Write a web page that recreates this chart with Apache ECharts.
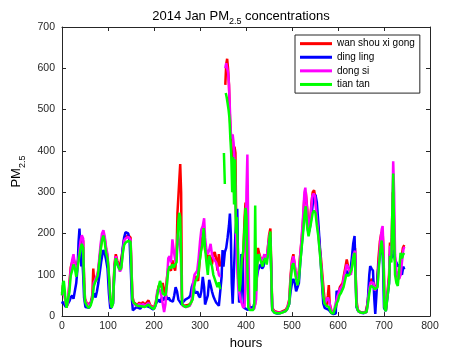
<!DOCTYPE html>
<html><head><meta charset="utf-8">
<script src="https://cdn.jsdelivr.net/npm/echarts@6/dist/echarts.min.js"></script>
<style>html,body{margin:0;padding:0;background:#fff}#c{width:474px;height:355px}</style>
</head><body><div id="c"></div>
<script>
const seriesNames = ['wan shou xi gong', 'ding ling', 'dong si', 'tian tan'];
const xTicks = [0, 100, 200, 300, 400, 500, 600, 700, 800];
const yTicks = [0, 100, 200, 300, 400, 500, 600, 700];

// [hour, PM2.5]
const wanShouXiGong = [[0,55],[2,75],[4,72],[6,50],[8,30],[10,22],[13,35],[16,80],[19,118],[22,130],[25,140],[28,128],[31,110],[34,128],[37,150],[40,175],[43,190],[46,182],[48,90],[50,42],[54,30],[58,26],[62,30],[66,52],[68,115],[70,82],[73,86],[76,90],[79,112],[82,142],[85,172],[88,192],[90,200],[93,186],[96,162],[99,142],[102,92],[105,40],[108,24],[111,40],[114,125],[117,150],[120,135],[123,125],[126,120],[129,118],[132,160],[135,185],[138,190],[141,192],[144,196],[147,198],[149,190],[151,120],[153,48],[156,34],[160,30],[164,26],[168,33],[172,28],[176,34],[180,27],[184,30],[188,38],[192,26],[196,22],[200,20],[204,35],[207,55],[210,72],[213,78],[216,70],[219,80],[222,60],[225,55],[228,92],[231,118],[234,122],[237,110],[240,135],[243,120],[246,110],[249,150],[251,250],[253,290],[255,330],[257,368],[259,300],[260,150],[261,30],[264,25],[268,24],[272,26],[276,28],[280,30],[284,45],[287,75],[290,97],[293,100],[296,85],[299,130],[302,160],[305,190],[308,195],[311,160],[314,150],[317,130],[320,148],[323,140],[326,125],[329,150],[332,155],[335,140],[338,110],[341,150],[344,120],[346,null],[355,560],[357,610],[359,623],[361,600],[363,560],[365,480],[367,440],[369,400],[371,340],[373,300],[375,410],[377,395],[379,200],[381,150],[383,90],[385,80],[388,60],[391,100],[394,150],[397,240],[399,275],[401,260],[403,180],[405,40],[408,20],[412,18],[416,18],[420,30],[423,120],[426,165],[429,150],[432,140],[435,125],[438,135],[441,150],[444,130],[447,160],[450,195],[453,212],[455,120],[457,20],[462,12],[468,10],[474,9],[480,12],[486,15],[490,22],[494,40],[497,100],[500,135],[503,150],[506,120],[509,95],[512,85],[515,110],[518,150],[521,185],[524,230],[527,290],[530,300],[533,260],[536,215],[539,220],[542,270],[545,300],[548,305],[551,285],[554,240],[557,210],[560,170],[563,140],[566,100],[569,60],[572,30],[575,25],[578,50],[580,75],[582,30],[586,12],[590,8],[594,10],[598,40],[601,55],[604,70],[607,72],[610,80],[613,100],[616,118],[619,137],[622,120],[625,110],[628,105],[631,130],[634,150],[637,165],[640,40],[643,15],[648,10],[654,8],[660,10],[664,30],[667,60],[670,80],[673,90],[676,85],[679,70],[682,60],[685,80],[688,140],[691,180],[694,200],[697,205],[699,150],[701,30],[704,15],[708,18],[711,100],[713,178],[715,150],[717,190],[719,300],[721,260],[723,150],[726,110],[729,95],[732,90],[735,100],[738,140],[741,165],[744,172]];

const dingLing = [[0,30],[2,35],[4,30],[6,26],[8,22],[10,25],[13,30],[16,36],[19,45],[22,50],[25,42],[28,45],[31,80],[34,120],[36,180],[38,212],[40,165],[42,120],[44,140],[46,100],[48,45],[51,22],[55,25],[59,20],[63,24],[67,48],[70,55],[73,45],[76,60],[79,80],[82,105],[85,130],[88,150],[90,160],[93,152],[96,135],[99,115],[102,55],[105,18],[108,14],[111,30],[114,110],[117,140],[120,130],[123,120],[126,115],[129,125],[132,165],[135,190],[138,203],[141,202],[144,200],[147,180],[150,100],[152,40],[154,14],[158,18],[162,22],[166,20],[170,18],[174,24],[178,20],[182,25],[186,28],[190,22],[194,18],[198,16],[202,22],[205,32],[208,35],[211,40],[214,33],[217,45],[220,38],[223,45],[226,50],[229,40],[232,45],[235,38],[238,42],[241,35],[244,50],[247,70],[250,60],[253,40],[256,35],[260,28],[264,35],[268,40],[272,38],[276,45],[279,50],[282,70],[285,80],[288,60],[291,55],[294,60],[297,50],[300,45],[303,60],[306,95],[309,70],[311,28],[314,30],[317,50],[320,88],[323,75],[326,60],[329,48],[332,40],[335,33],[338,30],[341,25],[344,22],[347,95],[349,160],[351,120],[354,155],[357,165],[360,190],[363,220],[365,248],[367,200],[369,80],[371,30],[374,32],[377,200],[379,230],[381,260],[383,120],[385,33],[388,40],[390,150],[392,140],[394,60],[396,20],[400,18],[404,15],[408,20],[412,18],[416,22],[420,40],[423,90],[426,110],[429,120],[432,125],[435,115],[438,120],[441,140],[444,130],[447,150],[450,180],[453,190],[455,100],[457,15],[462,8],[468,6],[474,7],[480,10],[486,12],[490,18],[494,30],[497,60],[500,80],[503,90],[506,80],[509,60],[512,58],[515,80],[518,130],[521,170],[524,210],[527,250],[530,255],[533,220],[536,200],[539,215],[542,240],[545,270],[548,285],[551,294],[554,275],[557,230],[560,180],[563,120],[566,63],[568,30],[571,20],[575,18],[580,15],[585,8],[590,5],[595,6],[597,61],[600,55],[603,60],[606,70],[609,65],[612,80],[615,95],[618,110],[621,105],[624,100],[627,110],[630,140],[633,175],[636,194],[638,120],[640,22],[644,12],[650,8],[656,7],[662,10],[665,40],[668,100],[670,121],[673,115],[676,110],[679,40],[681,5],[684,60],[687,110],[690,140],[693,165],[696,178],[698,120],[700,20],[704,12],[708,15],[711,80],[713,150],[716,140],[718,145],[721,160],[724,135],[727,130],[730,120],[733,125],[736,110],[739,100],[742,120],[744,113]];

const dongSi = [[0,50],[2,70],[4,68],[6,48],[8,30],[10,22],[13,32],[16,75],[19,112],[22,135],[25,150],[28,125],[31,110],[34,125],[37,148],[40,180],[43,196],[46,188],[48,85],[50,40],[54,28],[58,24],[62,28],[66,45],[69,80],[72,88],[75,92],[78,105],[81,140],[84,175],[87,200],[90,208],[93,192],[96,165],[99,150],[102,95],[105,35],[108,22],[111,35],[114,120],[117,145],[120,130],[123,118],[126,108],[129,115],[132,155],[135,182],[138,188],[141,190],[144,192],[147,195],[149,185],[151,115],[153,45],[156,30],[160,28],[164,24],[168,30],[172,25],[176,30],[180,24],[184,27],[188,32],[192,24],[196,20],[200,18],[204,30],[207,60],[210,68],[213,62],[216,50],[219,30],[222,10],[225,30],[228,80],[231,140],[234,145],[237,130],[240,186],[242,190],[244,150],[247,130],[250,170],[252,200],[254,185],[256,170],[258,150],[260,60],[262,25],[266,22],[270,22],[274,24],[278,25],[282,40],[285,80],[288,100],[291,105],[294,110],[297,140],[300,180],[303,210],[306,218],[309,237],[311,190],[314,160],[317,150],[320,160],[323,175],[326,150],[329,140],[332,135],[335,130],[338,120],[341,100],[344,95],[346,null],[355,600],[357,612],[359,608],[361,590],[363,560],[365,500],[367,445],[369,430],[371,440],[373,420],[375,380],[377,300],[379,180],[381,120],[383,70],[385,60],[388,40],[391,30],[394,20],[397,25],[399,80],[401,300],[403,391],[405,200],[407,20],[410,15],[414,14],[418,18],[422,40],[425,130],[428,150],[431,140],[434,135],[437,140],[440,150],[443,135],[446,150],[449,180],[452,200],[455,110],[457,18],[462,10],[468,8],[474,8],[480,10],[486,12],[490,20],[494,35],[497,90],[500,130],[503,145],[506,125],[509,100],[512,85],[515,105],[518,150],[521,190],[524,240],[527,300],[529,311],[532,270],[535,225],[538,210],[541,250],[544,290],[547,297],[550,290],[553,250],[556,215],[559,175],[562,140],[565,100],[568,55],[571,30],[574,28],[578,45],[581,35],[585,12],[590,8],[594,10],[598,45],[601,55],[604,65],[607,68],[610,75],[613,95],[616,110],[619,125],[622,118],[625,108],[628,100],[631,125],[634,150],[637,158],[640,30],[644,12],[650,8],[656,8],[662,10],[665,35],[668,65],[671,82],[674,85],[677,80],[680,62],[683,60],[686,75],[689,130],[692,180],[695,210],[697,218],[699,160],[701,25],[704,14],[708,16],[711,90],[713,170],[716,150],[718,250],[720,375],[722,300],[724,150],[727,110],[730,95],[733,90],[736,100],[739,130],[742,160],[744,168]];

const tianTan = [[0,50],[2,80],[4,85],[6,62],[8,35],[10,20],[13,24],[16,58],[19,98],[22,110],[25,125],[28,115],[31,95],[34,118],[37,140],[40,162],[43,175],[46,165],[48,80],[50,35],[54,25],[58,20],[62,25],[66,40],[69,72],[72,82],[75,80],[78,98],[81,128],[84,160],[87,184],[90,195],[93,178],[96,152],[99,140],[102,100],[105,42],[108,20],[111,32],[114,115],[117,140],[120,128],[123,118],[126,112],[129,118],[132,150],[135,172],[138,178],[141,180],[144,182],[147,185],[149,180],[151,110],[153,40],[156,32],[160,28],[164,25],[168,27],[172,24],[176,26],[180,22],[184,25],[188,28],[192,22],[196,18],[200,17],[204,28],[207,50],[210,70],[213,85],[216,75],[219,55],[222,58],[225,50],[228,75],[231,110],[234,121],[237,115],[240,125],[243,118],[246,125],[249,130],[251,180],[253,230],[255,250],[257,240],[259,150],[261,28],[264,24],[268,22],[272,24],[276,25],[280,28],[284,40],[287,70],[290,85],[293,90],[296,100],[299,130],[302,155],[305,172],[308,213],[311,165],[314,130],[317,100],[320,146],[323,130],[326,121],[329,100],[332,90],[335,80],[338,70],[341,82],[344,65],[346,null],[352,395],[354,320],[355,null],[356,540],[358,530],[360,515],[362,500],[364,480],[366,430],[368,390],[370,300],[372,385],[374,270],[376,380],[378,200],[380,240],[382,170],[384,90],[386,60],[388,80],[391,140],[394,157],[397,220],[399,262],[401,240],[403,120],[405,20],[408,15],[412,14],[416,15],[418,30],[420,268],[422,60],[424,120],[427,150],[430,140],[433,130],[436,120],[439,135],[442,140],[445,125],[448,150],[451,190],[453,205],[455,100],[457,15],[462,8],[468,7],[474,7],[480,9],[486,12],[490,18],[494,30],[497,85],[500,120],[503,128],[506,110],[509,90],[512,75],[515,90],[518,130],[521,165],[524,200],[527,245],[530,266],[533,215],[536,193],[539,195],[542,230],[545,250],[548,255],[551,250],[554,220],[557,195],[560,160],[563,120],[566,77],[568,49],[571,30],[575,25],[580,22],[585,8],[590,6],[594,8],[597,30],[600,37],[603,50],[606,55],[609,58],[612,70],[615,85],[618,100],[621,103],[624,98],[627,95],[630,115],[633,140],[636,153],[638,100],[640,25],[644,12],[650,8],[656,8],[662,10],[665,30],[668,55],[671,73],[674,75],[677,70],[680,65],[683,62],[686,70],[689,120],[692,160],[695,183],[697,186],[699,130],[701,20],[704,12],[708,15],[711,80],[713,146],[716,130],[718,250],[720,345],[722,200],[724,100],[727,80],[730,73],[733,110],[736,153],[739,140],[742,150],[744,153]];

const allData = [wanShouXiGong, dingLing, dongSi, tianTan];
const colors = ['#ff0000', '#0000ff', '#ff00ff', '#00ff00'];
const FONT = 'Liberation Sans';
const axisCol = '#262626';

const chart = echarts.init(document.getElementById('c'), null, {renderer: 'canvas'});
const prep = d => d.map(p => [p[0], p[1] == null ? '-' : p[1]]);

const mainAxisCommon = {
  type: 'value',
  splitLine: {show: false},
  axisLine: {show: true, onZero: false, lineStyle: {color: axisCol, width: 1}},
  axisTick: {show: true, inside: true, length: 4, lineStyle: {color: axisCol}},
};
const subRich = {
  a: {fontFamily: FONT, fontSize: 13, fontWeight: 'normal', color: '#000', lineHeight: 15, verticalAlign: 'top'},
  b: {fontFamily: FONT, fontSize: 9, fontWeight: 'normal', color: '#000', lineHeight: 9, padding: [9, 0, 0, 0]}
};

chart.setOption({
  animation: false,
  backgroundColor: '#fff',
  title: {
    text: '{a|2014 Jan PM}{b|2.5}{a| concentrations}',
    left: 236, top: 5, textAlign: 'center',
    textStyle: {fontWeight: 'normal', rich: subRich}
  },
  legend: {
    data: seriesNames,
    orient: 'vertical',
    left: 295, top: 35,
    padding: [2, 5, 2, 5],
    itemGap: 0.3,
    itemWidth: 32, itemHeight: 3,
    icon: 'rect',
    borderColor: axisCol, borderWidth: 1,
    backgroundColor: '#fff',
    textStyle: {fontFamily: FONT, fontSize: 10, color: '#000', lineHeight: 13.3},
  },
  grid: [{left: 62, right: 44, top: 27, bottom: 38, containLabel: false}],
  xAxis: [
    Object.assign({}, mainAxisCommon, {
      min: xTicks[0], max: xTicks[xTicks.length - 1], interval: 100,
      position: 'bottom',
      name: 'hours', nameLocation: 'middle', nameGap: 20,
      nameTextStyle: {fontFamily: FONT, fontSize: 13, color: '#000'},
      axisLabel: {fontFamily: FONT, fontSize: 10.5, color: axisCol, margin: 5}
    }),
    Object.assign({}, mainAxisCommon, {
      min: xTicks[0], max: xTicks[xTicks.length - 1], interval: 100,
      position: 'top', axisLabel: {show: false}
    })
  ],
  yAxis: [
    Object.assign({}, mainAxisCommon, {
      min: yTicks[0], max: yTicks[yTicks.length - 1], interval: 100,
      position: 'left',
      name: '{a|PM}{b|2.5}', nameLocation: 'middle', nameGap: 25, nameRotate: 90,
      nameTextStyle: {rich: subRich},
      axisLabel: {fontFamily: FONT, fontSize: 10.5, color: axisCol, margin: 7}
    }),
    Object.assign({}, mainAxisCommon, {
      min: yTicks[0], max: yTicks[yTicks.length - 1], interval: 100,
      position: 'right', axisLabel: {show: false}
    })
  ],
  series: allData.map((d, i) => ({
    name: seriesNames[i],
    type: 'line',
    xAxisIndex: 0, yAxisIndex: 0,
    data: prep(d),
    showSymbol: false,
    connectNulls: false,
    color: colors[i],
    lineStyle: {color: colors[i], width: 2.5},
    itemStyle: {color: colors[i]},
    z: 2 + i
  }))
});
</script>
</body></html>
